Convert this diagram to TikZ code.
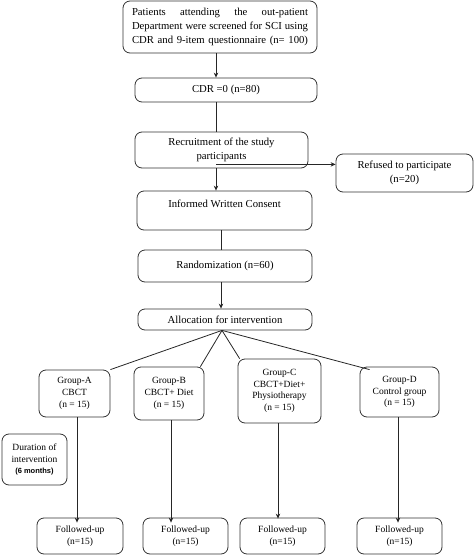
\documentclass[tikz,border=0pt]{standalone}
\usepackage{fontspec}
\setmainfont{Liberation Serif}
\newfontfamily\durfont{Liberation Sans}
\usetikzlibrary{arrows.meta}
\begin{document}
\begin{tikzpicture}[x=1pt,y=-1pt,
  boxb/.style={draw=black!80, line width=0.8pt, rounded corners=7pt, inner sep=1pt, align=center},
  big/.style={boxb, font=\fontsize{10.7}{14}\selectfont},
  small/.style={boxb, font=\fontsize{9.5}{11.7}\selectfont},
  conn/.style={draw=black!85, line width=0.8pt},
  arr/.style={conn, -{Stealth[length=5pt,width=4.5pt]}}]
\useasboundingbox (0,0) rectangle (474,555);
\node[big, minimum width=194pt, minimum height=52pt, align=left] (top) at (220,27)
  {\makebox[176pt][s]{Patients attending the out-patient}\\
   \makebox[176pt][s]{Department were screened for SCI using}\\
   \makebox[176pt][s]{CDR and 9-item questionnaire (n= 100)}};
\node[big, minimum width=182pt, minimum height=24pt] (cdr) at (226,90) {CDR =0 (n=80)};
\node[big, minimum width=173pt, minimum height=36pt] (rec) at (221.5,150) {Recruitment of the study\\participants};
\node[big, minimum width=137pt, minimum height=38pt] (ref) at (404.5,173) {Refused to participate\\(n=20)};
\node[big, minimum width=175pt, minimum height=39pt] (con) at (224.5,210.5) {Informed Written Consent\\\mbox{}};
\node[big, minimum width=174pt, minimum height=32pt] (ran) at (225,266) {Randomization (n=60)};
\node[big, minimum width=174pt, minimum height=21pt] (all) at (225,319.5) {Allocation for intervention};
\node[small, minimum width=71pt, minimum height=47pt] (ga) at (74.5,393.5) {Group-A\\CBCT\\(n = 15)};
\node[small, minimum width=70pt, minimum height=53pt] (gb) at (169,393.5) {Group-B\\CBCT+ Diet\\(n = 15)};
\node[small, minimum width=83pt, minimum height=64pt] (gc) at (279.5,391) {Group-C\\CBCT+Diet+\\Physiotherapy\\(n = 15)};
\node[small, minimum width=79pt, minimum height=50pt] (gd) at (399.5,392) {Group-D\\Control group\\(n = 15)};
\node[small, minimum width=65pt, minimum height=51pt] (dur) at (34.5,459.5) {Duration of\\intervention\\{\durfont\bfseries\fontsize{7.5}{11.7}\selectfont (6 months)}};
\node[small, minimum width=86pt, minimum height=36pt] (fa) at (80,536) {Followed-up\\(n=15)};
\node[small, minimum width=85pt, minimum height=36pt] (fb) at (185.5,536) {Followed-up\\(n=15)};
\node[small, minimum width=85pt, minimum height=36pt] (fc) at (282.5,536) {Followed-up\\(n=15)};
\node[small, minimum width=85pt, minimum height=36pt] (fd) at (399.5,536) {Followed-up\\(n=15)};
\coordinate (apex) at (all.south -| 222,0);
\coordinate (split) at (rec.south -| 216,0);
\draw[arr] (top.south -| 216,0) -- (cdr.north -| 216,0);
\draw[conn] (cdr.south -| 216,0) -- (rec.north -| 216,0);
\draw[arr] (split) -- (con.north -| 216,0);
\draw[arr] ([yshift=4pt]split) -- ([yshift=4pt]split -| ref.west);
\draw[conn] (con.south -| 221,0) -- (ran.north -| 221,0);
\draw[arr] (ran.south -| 221,0) -- (all.north -| 221,0);
\draw[conn] (apex) -- (ga.north east);
\draw[conn] (apex) -- ([xshift=-4pt]gb.north east);
\draw[conn] (apex) -- ([xshift=2pt]gc.north west);
\draw[conn] (apex) -- ([xshift=10pt,yshift=-3pt]gd.north west);
\draw[arr] (ga.south -| 77,0) -- ([yshift=-5pt]fa.north -| 77,0);
\draw[arr] (gb.south -| 171,0) -- ([yshift=-5pt]fb.north -| 171,0);
\draw[arr] (gc.south -| 278,0) -- ([yshift=-1pt]fc.north -| 278,0);
\draw[arr] (gd.south -| 398,0) -- ([yshift=-5pt]fd.north -| 398,0);
\end{tikzpicture}
\end{document}
